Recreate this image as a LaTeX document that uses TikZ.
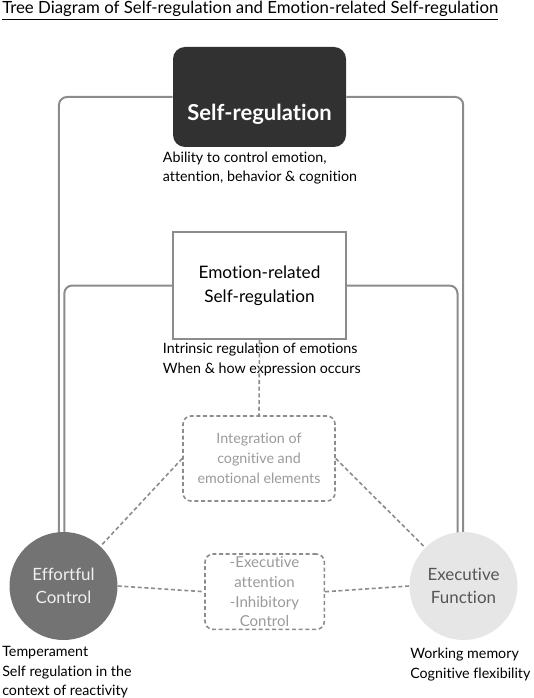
\documentclass[tikz,border=0pt]{standalone}
\usepackage{fontspec}
\setmainfont{Lato}[Ligatures=NoCommon]
\usetikzlibrary{backgrounds}
\definecolor{linegray}{HTML}{8C8C8C}
\definecolor{srdark}{HTML}{313131}
\definecolor{ecfill}{HTML}{737373}
\definecolor{effill}{HTML}{E6E6E6}
\definecolor{eftext}{HTML}{555555}
\definecolor{softtext}{HTML}{9A9A9A}
\begin{document}
\begin{tikzpicture}[x=0.75pt,y=-0.75pt,
  conn/.style={draw=linegray,line width=1.5pt,rounded corners=6pt},
  dconn/.style={draw=linegray,line width=1.2pt,dash pattern=on 3pt off 2pt},
  dbox/.style={draw=linegray,line width=1.2pt,dash pattern=on 3pt off 2pt,rounded corners=6pt,inner sep=0pt,text=softtext,align=center},
  desc/.style={anchor=base west,inner sep=0pt,align=left,font=\fontsize{10.7}{14.6}\selectfont},
  circ/.style={circle,minimum size=81pt,inner sep=0pt,align=center,font=\fontsize{12.7}{17.5}\selectfont}]
\useasboundingbox (0,0) rectangle (533,698);
\node[anchor=base west,inner sep=0pt,font=\fontsize{12.6}{14}\selectfont] (title) at (2,14) {\underline{Tree Diagram of Self-regulation and Emotion-related Self-regulation}};
\node[fill=srdark,rounded corners=9pt,minimum width=129.75pt,minimum height=75pt,inner sep=0pt,text=white,font=\fontsize{16.5}{20}\selectfont\bfseries,text height=36pt,text depth=0pt] (sr) at (259.5,97) {Self-regulation};
\node[desc] (srd) at (162.7,181.7) {Ability to control emotion,\\attention, behavior \& cognition};
\node[draw=linegray,line width=1.5pt,fill=white,minimum width=129.75pt,minimum height=80.25pt,inner sep=0pt,align=center,font=\fontsize{12.9}{18}\selectfont] (emo) at (259.5,285.5) {Emotion-related\\Self-regulation};
\node[desc] (emod) at (162.7,373.3) {Intrinsic regulation of emotions\\When \& how expression occurs};
\node[dbox,minimum width=114pt,minimum height=63.75pt,font=\fontsize{10.7}{15}\selectfont] (integ) at (259,458.5) {Integration of\\cognitive and\\emotional elements};
\node[circ,fill=ecfill,text=white!94!black] (ec) at (63.5,586) {Effortful\\Control};
\node[circ,fill=effill,text=eftext] (ef) at (463.5,586) {Executive\\Function};
\node[dbox,minimum width=89.5pt,minimum height=56.5pt] (mid) at (264.7,591.7) {};
\node[anchor=base,inner sep=0pt,align=center,text=softtext,font=\fontsize{11.3}{14.75}\selectfont] (midt) at (264.5,626.7) {-Executive\\attention\\-Inhibitory\\Control};
\node[desc] (ecd) at (2,695.5) {Temperament\\Self regulation in the\\context of reactivity};
\node[desc] (efd) at (410,678.3) {Working memory\\Cognitive flexibility};
\begin{scope}[on background layer]
\draw[conn] (sr.west) -| ([xshift=-3.4pt]ec.center);
\draw[conn] (sr.east) -| ([xshift=-0.2pt]ef.center);
\draw[conn] (emo.west) -| ([xshift=0.6pt]ec.center);
\draw[conn] (emo.east) -| ([xshift=-4.5pt]ef.center);
\end{scope}
\draw[dconn] (emo.south) -- (integ.north);
\draw[dconn] (integ.west) -- (ec);
\draw[dconn] (integ.east) -- (ef);
\draw[dconn] (ec.east) -- (mid.west);
\draw[dconn] (mid.east) -- (ef.west);
\end{tikzpicture}
\end{document}
